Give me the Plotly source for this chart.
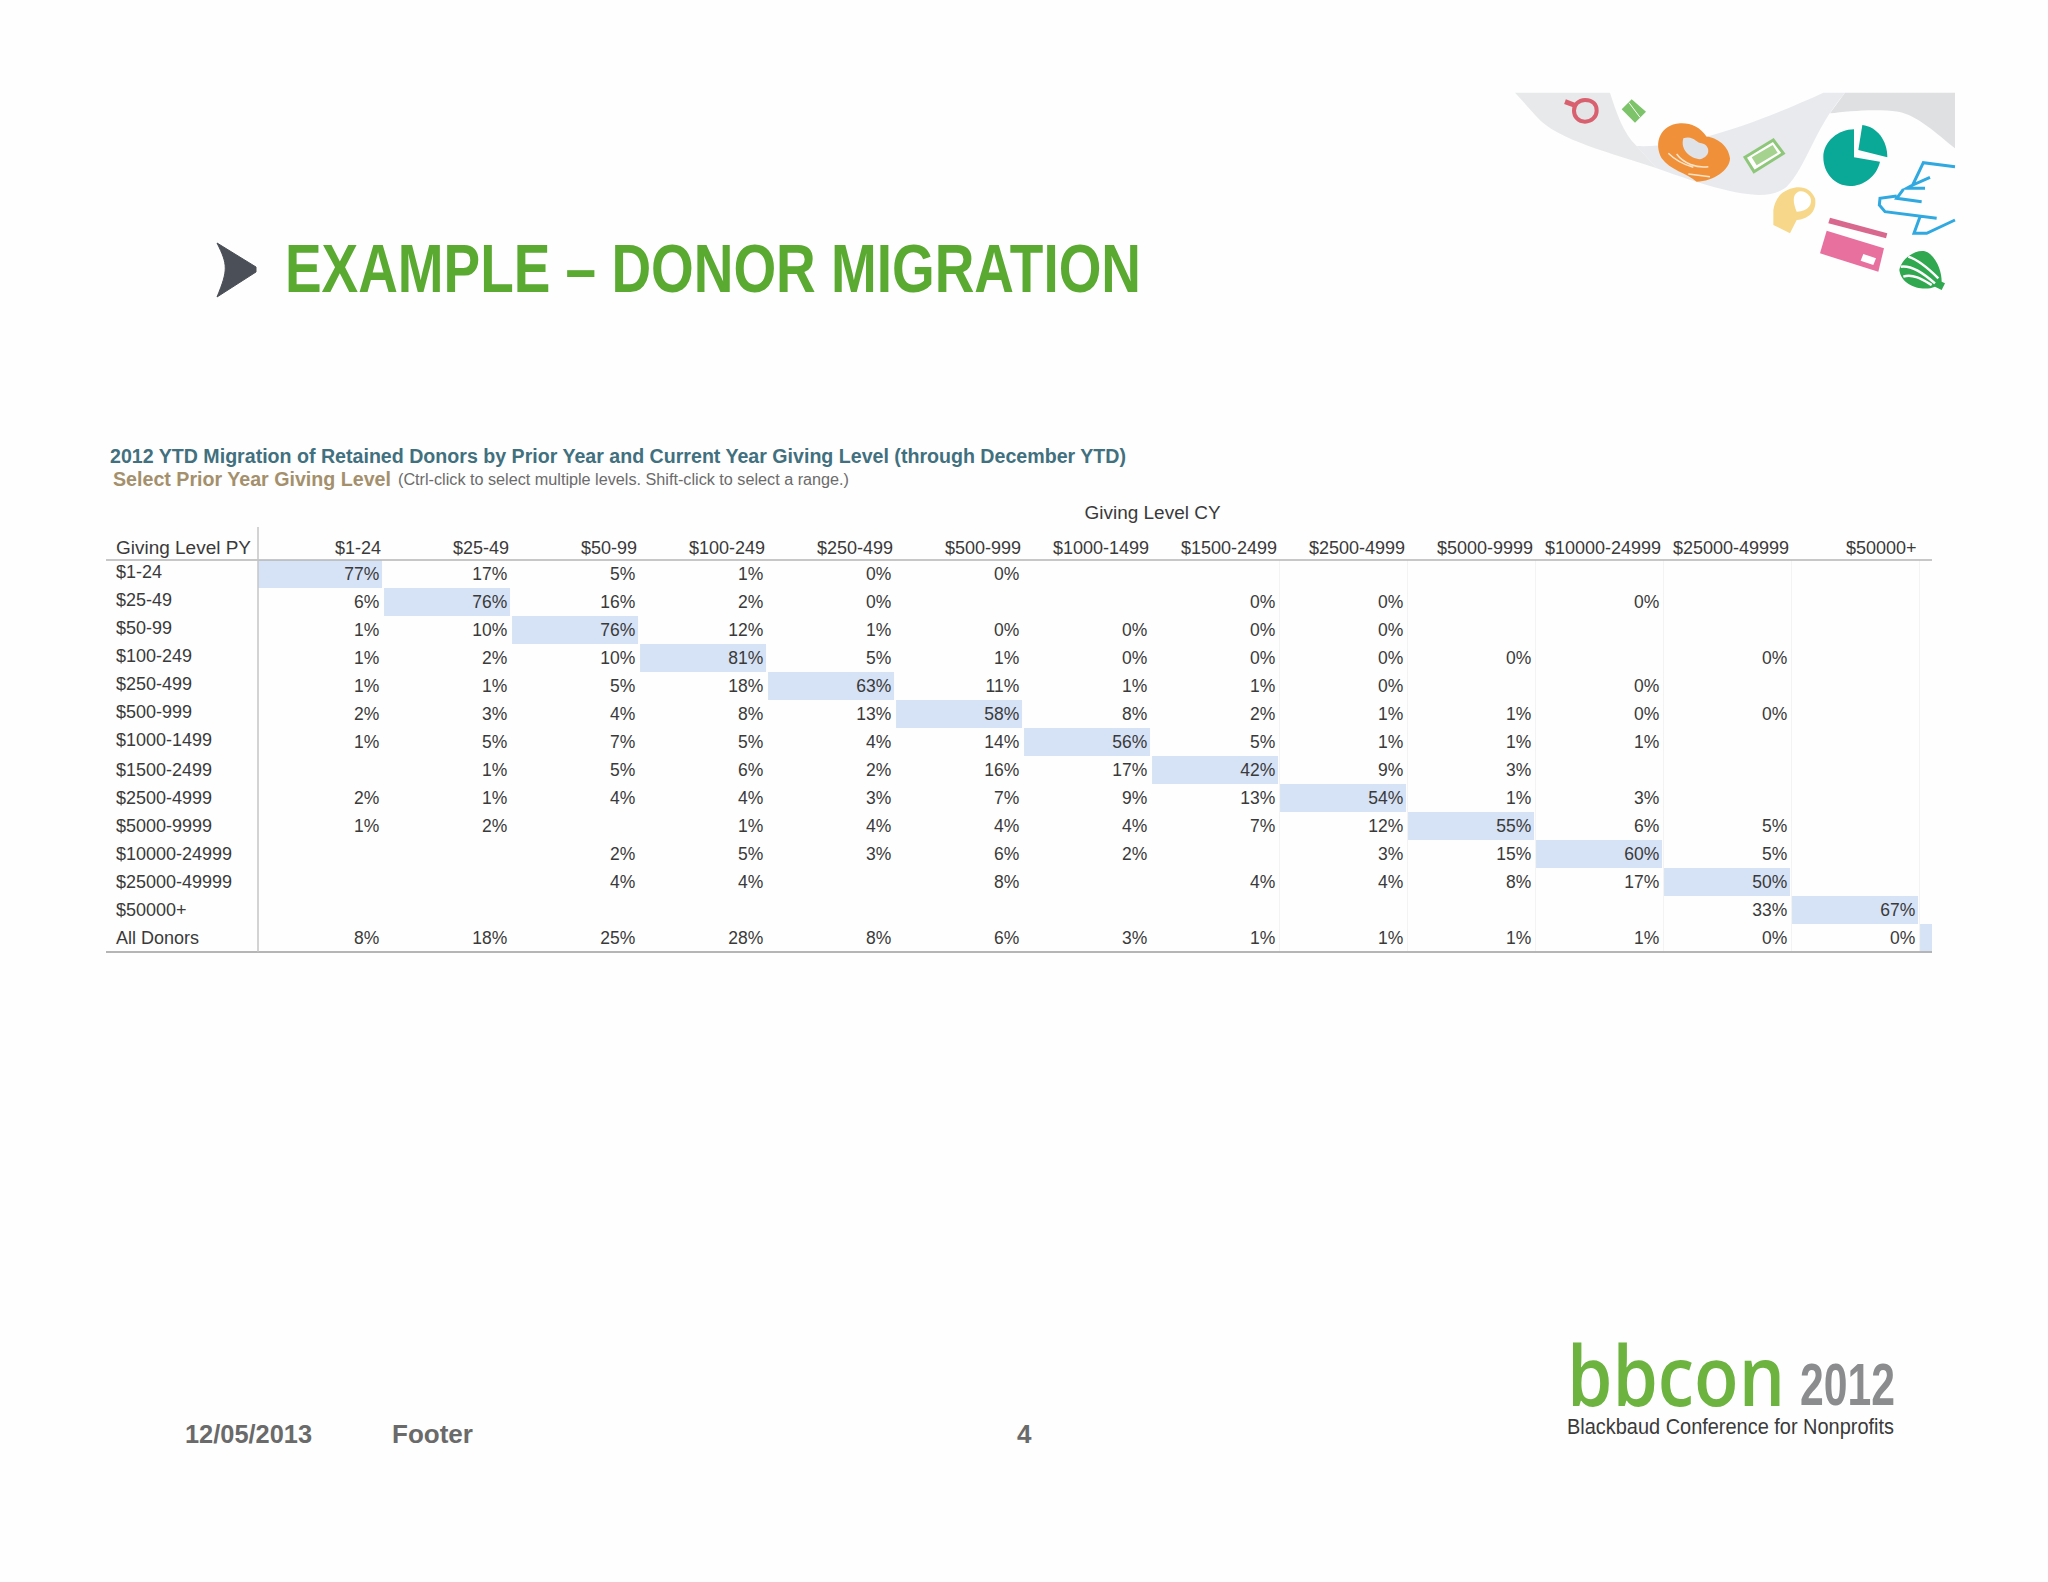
import json
import re

import plotly.graph_objects as go

# values
levels_cy = ['$1-24', '$25-49', '$50-99', '$100-249', '$250-499', '$500-999', '$1000-1499',
             '$1500-2499', '$2500-4999', '$5000-9999', '$10000-24999', '$25000-49999', '$50000+']
levels_py = levels_cy + ['All Donors']

_ = None
row_1_24 = [77, 17, 5, 1, 0, 0, _, _, _, _, _, _, _]
row_25_49 = [6, 76, 16, 2, 0, _, _, 0, 0, _, 0, _, _]
row_50_99 = [1, 10, 76, 12, 1, 0, 0, 0, 0, _, _, _, _]
row_100_249 = [1, 2, 10, 81, 5, 1, 0, 0, 0, 0, _, 0, _]
row_250_499 = [1, 1, 5, 18, 63, 11, 1, 1, 0, _, 0, _, _]
row_500_999 = [2, 3, 4, 8, 13, 58, 8, 2, 1, 1, 0, 0, _]
row_1000_1499 = [1, 5, 7, 5, 4, 14, 56, 5, 1, 1, 1, _, _]
row_1500_2499 = [_, 1, 5, 6, 2, 16, 17, 42, 9, 3, _, _, _]
row_2500_4999 = [2, 1, 4, 4, 3, 7, 9, 13, 54, 1, 3, _, _]
row_5000_9999 = [1, 2, _, 1, 4, 4, 4, 7, 12, 55, 6, 5, _]
row_10000_24999 = [_, _, 2, 5, 3, 6, 2, _, 3, 15, 60, 5, _]
row_25000_49999 = [_, _, 4, 4, _, 8, _, 4, 4, 8, 17, 50, _]
row_50000 = [_, _, _, _, _, _, _, _, _, _, _, 33, 67]
row_all = [8, 18, 25, 28, 8, 6, 3, 1, 1, 1, 1, 0, 0]

rows = [row_1_24, row_25_49, row_50_99, row_100_249, row_250_499, row_500_999, row_1000_1499,
        row_1500_2499, row_2500_4999, row_5000_9999, row_10000_24999, row_25000_49999,
        row_50000, row_all]

W = 2048
H = 1582
SANS = 'Liberation Sans'
TEXT = '#3a3a3a'

TITLE = 'EXAMPLE – DONOR MIGRATION'
TABLE_TITLE = '2012 YTD Migration of Retained Donors by Prior Year and Current Year Giving Level (through December YTD)'
SELECT = 'Select Prior Year Giving Level'
HINT = '(Ctrl-click to select multiple levels. Shift-click to select a range.)'
AXIS_CY = 'Giving Level CY'
AXIS_PY = 'Giving Level PY'
TAGLINE = 'Blackbaud Conference for Nonprofits'

# the slide's type is condensed and no narrow face is installed, so squeeze to the measured widths
text_widths = {TITLE: 856, TABLE_TITLE: 1016, SELECT: 278, HINT: 451, AXIS_CY: 136, AXIS_PY: 135,
               'bbcon': 218, '2012': 95, TAGLINE: 327, '12/05/2013': 127}


def page_path(d, ox=0, oy=0, s=1):
    # pixel path -> paper path
    def conv(m):
        x = ox + float(m.group(1)) / s
        y = oy + float(m.group(2)) / s
        return '%.5f,%.5f' % (x / W, 1 - y / H)
    return re.sub(r'(-?\d+\.?\d*),(-?\d+\.?\d*)', conv, d)


def label(x, y, text, size, color=TEXT, anchor='left', family=SANS, weight=None):
    return dict(xref='paper', yref='paper', x=x / W, y=1 - y / H, text=text, showarrow=False,
                xanchor=anchor, yanchor='middle', align=anchor, borderpad=0,
                font=dict(family=family, size=size, color=color, weight=weight))


def blob(d, fill, line=None, width=0):
    return dict(type='path', xref='paper', yref='paper', layer='below',
                path=page_path(d, 1480, 70, 3), fillcolor=fill,
                line=dict(color=line or fill, width=width))


def stroke(d, color, width):
    return dict(type='path', xref='paper', yref='paper', layer='below',
                path=page_path(d, 1480, 70, 3), line=dict(color=color, width=width))


# the diagonal cells are shaded (14th column is cut off by the slide crop)
shade = [[1 if i == j else None for j in range(14)] for i in range(14)]

xs = []
ys = []
texts = []
for i, row in enumerate(rows):
    for j, v in enumerate(row):
        if v is not None:
            xs.append(j + 0.47)
            ys.append(i + 0.06)
            texts.append('%d%%' % v)

fig = go.Figure()
fig.add_trace(go.Heatmap(
    z=shade,
    x=list(range(14)),
    y=list(range(14)),
    colorscale=[[0, '#d6e2f5'], [1, '#d6e2f5']],
    showscale=False,
    hoverinfo='skip',
    xgap=2,
))
fig.add_trace(go.Scatter(
    x=xs,
    y=ys,
    text=texts,
    mode='text',
    textposition='middle left',
    textfont=dict(family=SANS, size=17.5, color=TEXT),
    showlegend=False,
    hoverinfo='skip',
))

annotations = [
    label(284, 268, '<b>%s</b>' % TITLE, 68, '#5aaa32'),
    label(109, 456, '<b>%s</b>' % TABLE_TITLE, 20, '#41707e'),
    label(112, 479, '<b>%s</b>' % SELECT, 20, '#a4906c'),
    label(397, 479, HINT, 16, '#6b6b6b'),
    label(1152, 513, AXIS_CY, 18, TEXT, 'center'),
    label(115, 548, AXIS_PY, 18),
    label(184, 1434, '<b>12/05/2013</b>', 26, '#6a6a6a'),
    label(391, 1434, '<b>Footer</b>', 26, '#6a6a6a'),
    label(1024, 1434, '<b>4</b>', 26, '#6a6a6a', 'center'),
    label(1566, 1373, 'bbcon', 84, '#6cb33f', family='Open Sans', weight=600),
    label(1799, 1384, '<b>2012</b>', 60, '#8a8c8e'),
    label(1566, 1426, TAGLINE, 22, '#3a3a3a'),
]
for j, name in enumerate(levels_cy):
    annotations.append(dict(xref='x', yref='paper', x=j + 0.49, y=1 - 548 / H, text=name, showarrow=False,
                            xanchor='right', yanchor='middle', borderpad=0,
                            font=dict(family=SANS, size=18, color=TEXT)))
for i, name in enumerate(levels_py):
    annotations.append(dict(xref='paper', yref='y', x=115 / W, y=i, text=name, showarrow=False,
                            xanchor='left', yanchor='middle', borderpad=0, yshift=2 if i < 7 else 0,
                            font=dict(family=SANS, size=18, color=TEXT)))

shapes = [
    # table rules
    dict(type='line', xref='paper', yref='paper', x0=106 / W, x1=1932 / W, y0=1 - 560 / H, y1=1 - 560 / H,
         line=dict(color='#b5b5b5', width=1.5)),
    dict(type='line', xref='paper', yref='paper', x0=106 / W, x1=1932 / W, y0=1 - 952 / H, y1=1 - 952 / H,
         line=dict(color='#b5b5b5', width=2)),
    dict(type='line', xref='paper', yref='paper', x0=258 / W, x1=258 / W, y0=1 - 527 / H, y1=1 - 952 / H,
         line=dict(color='#c4c4c4', width=1.5)),
    # title chevron
    dict(type='path', xref='paper', yref='paper', fillcolor='#4b4f57', line=dict(color='#4b4f57', width=1),
         path=page_path('M217,243 L256,267 L256,272 L217,297 C228,270 228,265 217,243 Z')),
    # swoosh at the top right
    blob('M105,68 L390,68 C410,130 430,190 470,228 L530,295 C400,250 230,210 170,140 Z', '#e8e9ea'),
    blob('M470,228 C620,235 830,160 1030,68 L1095,68 C1000,180 980,290 920,350 C860,400 740,370 530,295 Z', '#e8eaed'),
    blob('M1095,68 L1425,68 L1425,235 C1370,190 1310,135 1255,125 C1180,115 1100,125 1050,130 Z', '#dfe0e2'),
    # icons
    blob('M315,90 C340,90 350,105 350,122 C350,140 335,155 315,155 C295,155 282,140 282,122 C282,105 295,90 315,90 Z', '#e3e5e7', '#d9616f', 4),
    stroke('M255,95 L290,108', '#d9616f', 5),
    blob('M455,88 L498,125 L465,158 L425,118 Z', '#7cc36a'),
    stroke('M447,98 L480,142', '#ffffff', 1),
    blob('M600,160 C540,165 520,220 545,265 C570,300 620,310 650,335 C700,335 750,300 750,265 C745,220 700,200 680,200 C660,170 630,158 600,160 Z', '#f0913a'),
    blob('M610,205 C640,195 650,220 665,220 C690,225 695,260 660,268 C630,265 600,240 610,205 Z', '#dfe2e6'),
    stroke('M565,250 C590,275 615,285 640,292 M590,252 C610,280 650,295 685,290 M625,312 L690,320', '#fbe3c8', 1.5),
    blob('M795,262 L880,210 L910,250 L822,305 Z', '#ffffff', '#8ec77a', 3),
    blob('M815,262 L878,225 L893,248 L830,286 Z', '#a5d28f'),
    blob('M1122,178 L1122,262 L1200,275 C1190,320 1150,348 1110,348 C1065,348 1030,310 1030,262 C1030,215 1075,178 1122,178 Z', '#0aa896'),
    blob('M1147,165 C1190,170 1222,210 1222,262 L1135,240 Z', '#0aa896'),
    stroke('M1425,290 L1330,278 L1298,345 L1350,322 M1298,345 L1280,355 L1335,355 M1270,358 L1250,385 L1325,395 '
           'M1250,378 L1200,385 L1198,405 L1215,425 L1370,445 M1320,440 L1302,490 L1340,490 L1425,450', '#2fa9e0', 3),
    blob('M950,352 C900,360 885,390 880,420 L880,465 L930,490 L950,450 C1000,445 1010,410 1005,385 C995,360 975,350 950,352 Z', '#f7d88a'),
    blob('M955,365 C935,375 940,400 950,425 C985,425 1000,400 990,380 C980,365 965,362 955,365 Z', '#ffffff'),
    blob('M1050,443 L1222,490 L1218,505 L1045,460 Z', '#d9688f'),
    blob('M1040,482 L1212,535 L1195,605 L1020,550 Z', '#e8709f'),
    blob('M1150,552 L1188,565 L1180,585 L1142,572 Z', '#ffffff'),
    blob('M1258,600 C1265,560 1320,530 1345,548 C1375,570 1385,610 1385,635 L1395,640 L1385,660 L1365,650 C1330,665 1265,650 1258,600 Z', '#2fa84f'),
    stroke('M1262,590 C1295,585 1330,610 1365,640 M1285,560 C1315,570 1350,600 1375,625 M1270,620 C1300,610 1330,630 1355,645', '#ffffff', 2.5),
]

fig.update_layout(
    width=W,
    height=H,
    margin=dict(l=0, r=0, t=0, b=0),
    paper_bgcolor='#fefefe',
    plot_bgcolor='rgba(0,0,0,0)',
    showlegend=False,
    annotations=annotations,
    shapes=shapes,
    xaxis=dict(domain=[258 / W, 1932 / W], range=[-0.477, 12.6], showticklabels=False, ticks='',
               zeroline=False, showline=False, showgrid=True, gridcolor='#f3f3f3', gridwidth=1,
               tickvals=[j + 0.5 for j in range(7, 13)]),
    yaxis=dict(domain=[1 - 952 / H, 1 - 560 / H], range=[13.5, -0.5], showticklabels=False, ticks='',
               zeroline=False, showline=False, showgrid=False),
)

squeeze = """
document.body.style.margin = '0';
var widths = %s;
document.querySelectorAll('.annotation-text').forEach(function (el) {
    var w = widths[el.textContent];
    if (w) {
        el.setAttribute('textLength', w);
        el.setAttribute('lengthAdjust', 'spacingAndGlyphs');
    }
});
""" % json.dumps(text_widths)
fig.write_html('out.html', post_script=squeeze, config=dict(displayModeBar=False))
